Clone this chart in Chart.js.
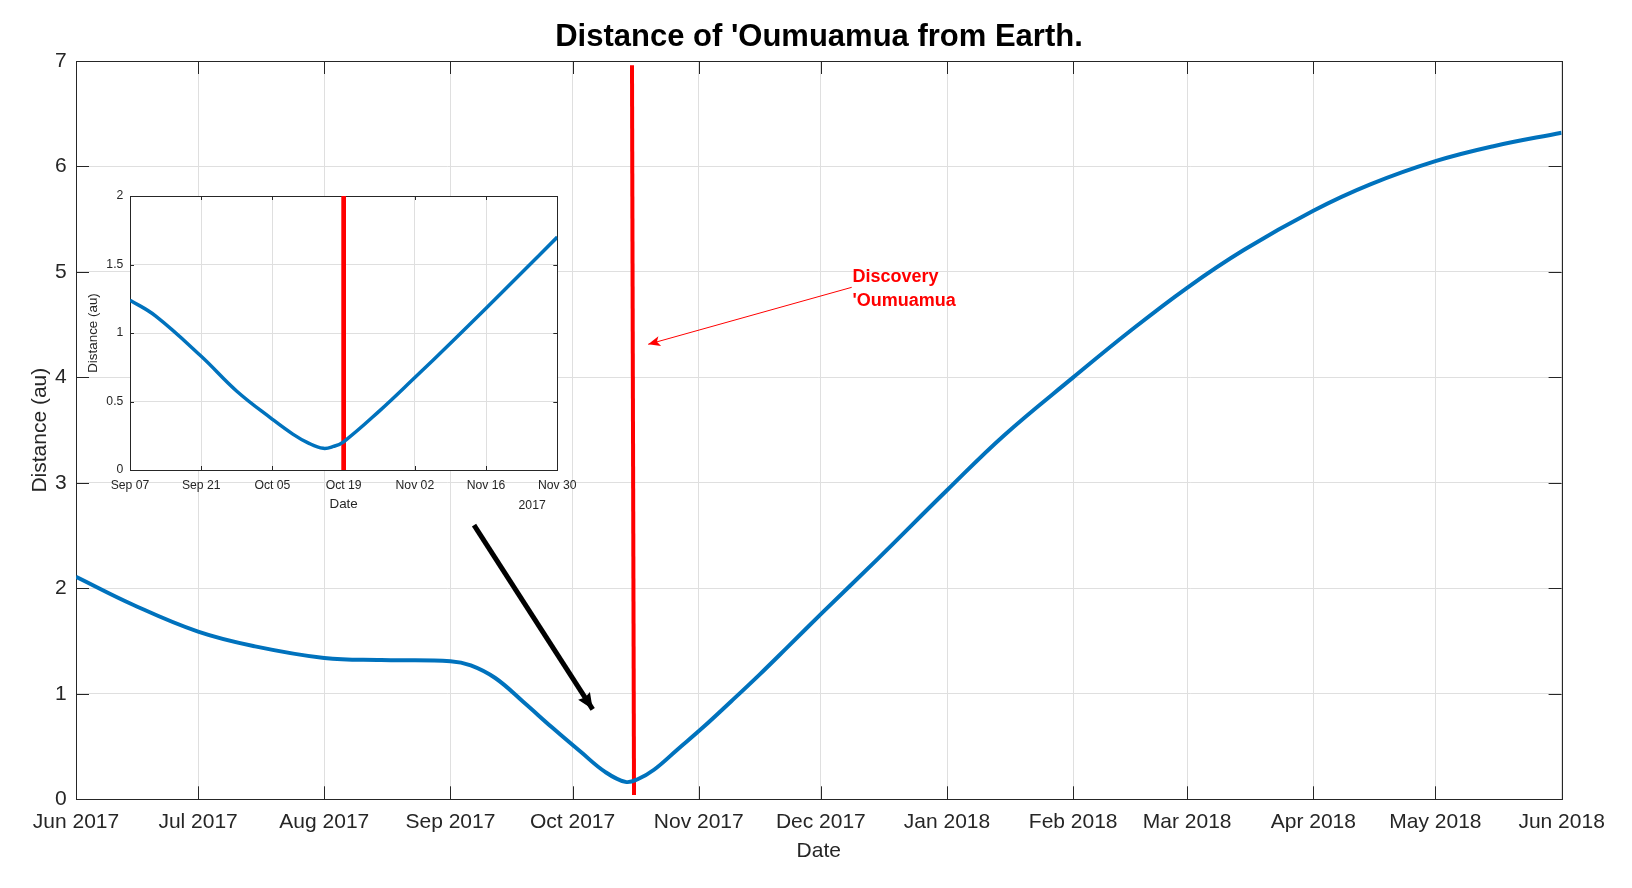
<!DOCTYPE html>
<html>
<head>
<meta charset="utf-8">
<title>Distance of 'Oumuamua from Earth</title>
<script src="https://cdn.jsdelivr.net/npm/chart.js@4.4.1/dist/chart.umd.min.js"></script>
<style>
  html, body { margin: 0; padding: 0; background: #fff; }
  #wrap { position: relative; width: 1632px; height: 888px; }
  #main { position: absolute; left: 0; top: 0; }
  #inset { position: absolute; left: 80px; top: 180px; }
</style>
</head>
<body>
<div id="wrap">
  <canvas id="main" width="1632" height="888"></canvas>
  <canvas id="inset" width="506" height="340"></canvas>
</div>
<script>
// distance of 'Oumuamua from Earth (au)
const mainDates = ['2017-06-01','2017-06-15','2017-07-01','2017-07-15','2017-08-01','2017-08-15','2017-09-01',
  '2017-09-06','2017-09-12','2017-09-19','2017-09-26','2017-10-03','2017-10-09','2017-10-14',
  '2017-10-17','2017-10-21','2017-10-27','2017-11-02','2017-11-09','2017-11-16','2017-11-23',
  '2017-12-01','2017-12-15','2018-01-01','2018-01-15','2018-02-01','2018-02-15','2018-03-01',
  '2018-03-15','2018-04-01','2018-04-15','2018-05-01','2018-05-15','2018-06-01'];
const mainDistance = [2.11,1.845,1.59,1.45,1.34,1.32,1.31,
  1.27,1.15,0.92,0.68,0.45,0.26,0.165,
  0.19,0.28,0.48,0.68,0.93,1.185,1.45,
  1.755,2.28,2.93,3.45,4.00,4.44,4.85,
  5.21,5.58,5.83,6.05,6.19,6.32];

// zoomed inset, Sep 07 - Nov 30 2017
const insetDates = ['2017-09-07','2017-09-12','2017-09-21','2017-09-28','2017-10-05','2017-10-09','2017-10-12','2017-10-15',
  '2017-10-17','2017-10-19','2017-10-26','2017-11-02','2017-11-09','2017-11-16','2017-11-23','2017-11-30'];
const insetDistance = [1.24,1.125,0.83,0.575,0.37,0.262,0.198,0.158,
  0.172,0.206,0.43,0.675,0.925,1.18,1.44,1.70];

// ticks
const mainTickDates = ['2017-06-01','2017-07-01','2017-08-01','2017-09-01','2017-10-01','2017-11-01','2017-12-01',
  '2018-01-01','2018-02-01','2018-03-01','2018-04-01','2018-05-01','2018-06-01'];
const mainTickLabels = ['Jun 2017','Jul 2017','Aug 2017','Sep 2017','Oct 2017','Nov 2017','Dec 2017',
  'Jan 2018','Feb 2018','Mar 2018','Apr 2018','May 2018','Jun 2018'];
const distanceTicks = [0,1,2,3,4,5,6,7];
const insetTickDates = ['2017-09-07','2017-09-21','2017-10-05','2017-10-19','2017-11-02','2017-11-16','2017-11-30'];
const insetTickLabels = ['Sep 07','Sep 21','Oct 05','Oct 19','Nov 02','Nov 16','Nov 30'];
const insetDistanceTicks = [0,0.5,1,1.5,2];

// hand drawn marks on the main plot (date, au)
const discoveryLineDates = ['2017-10-15T14:24','2017-10-16T02:24'];
const discoveryLineDistance = [6.96, 0.04];
const pointerDates = ['2017-09-06T19:00','2017-10-05T22:48'];
const pointerDistance = [2.60, 0.853];
const labelArrowDates = ['2017-12-08T14:00','2017-10-19T14:00'];
const labelArrowDistance = [4.854, 4.314];
const discoveryLabel = ['Discovery', "'Oumuamua"];
const discoveryLabelAt = ['2017-12-08T18:00', 4.908];
const insetDiscoveryDate = '2017-10-19';

const T0 = Date.UTC(2017, 5, 1);
const dayOf = s => (Date.parse(s.length > 10 ? s + 'Z' : s) - T0) / 864e5;
const pts = (dates, vals) => dates.map((d, i) => ({ x: dayOf(d), y: vals[i] }));

const FONT = '"Liberation Sans", Arial, Helvetica, sans-serif';
const AX = '#262626';
const GRID = '#dfdfdf';
const BLUE = '#0072BD';
const RED = '#ff0000';

// axes box with inward ticks on all four sides (matlab look)
const frame = {
  id: 'frame',
  beforeDatasetsDraw(chart, args, opts) {
    const { ctx, chartArea: a, scales: { x, y } } = chart;
    const L = opts.tickLength;
    const r = v => Math.round(v) + 0.5;
    ctx.save();
    ctx.strokeStyle = AX;
    ctx.lineWidth = 1;
    ctx.beginPath();
    x.ticks.forEach(t => {
      const px = r(x.getPixelForValue(t.value));
      ctx.moveTo(px, a.bottom); ctx.lineTo(px, a.bottom - L);
      ctx.moveTo(px, a.top); ctx.lineTo(px, a.top + L);
    });
    y.ticks.forEach(t => {
      const py = r(y.getPixelForValue(t.value));
      ctx.moveTo(a.left, py); ctx.lineTo(a.left + L, py);
      ctx.moveTo(a.right, py); ctx.lineTo(a.right - L, py);
    });
    ctx.stroke();
    ctx.strokeRect(r(a.left), r(a.top), Math.round(a.right - a.left), Math.round(a.bottom - a.top));
    ctx.restore();
  }
};

const whiteArea = {
  id: 'whiteArea',
  beforeDraw(chart) {
    const { ctx, chartArea: a } = chart;
    ctx.save();
    ctx.fillStyle = '#fff';
    ctx.fillRect(a.left, a.top, a.right - a.left, a.bottom - a.top);
    ctx.restore();
  }
};

const arrowHeads = {
  id: 'arrowHeads',
  afterDatasetsDraw(chart) {
    const ctx = chart.ctx;
    chart.data.datasets.forEach((ds, i) => {
      if (!ds.arrowHead) return;
      const el = chart.getDatasetMeta(i).data;
      const p0 = el[el.length - 2], p1 = el[el.length - 1];
      const ang = Math.atan2(p1.y - p0.y, p1.x - p0.x);
      const h = ds.arrowHead;
      ctx.save();
      ctx.translate(p1.x, p1.y);
      ctx.rotate(ang);
      ctx.fillStyle = ds.borderColor;
      ctx.beginPath();
      ctx.moveTo(0, 0);
      ctx.lineTo(-h.len, -h.half);
      ctx.lineTo(-h.len + h.notch, 0);
      ctx.lineTo(-h.len, h.half);
      ctx.closePath();
      ctx.fill();
      ctx.restore();
    });
  }
};

const mainNotes = {
  id: 'mainNotes',
  afterDatasetsDraw(chart) {
    const { ctx, scales: { x, y } } = chart;
    const px = x.getPixelForValue(dayOf(discoveryLabelAt[0]));
    const py = y.getPixelForValue(discoveryLabelAt[1]);
    ctx.save();
    ctx.fillStyle = RED;
    ctx.font = 'bold 18px ' + FONT;
    ctx.textAlign = 'left';
    ctx.textBaseline = 'alphabetic';
    discoveryLabel.forEach((t, i) => ctx.fillText(t, px, py + i * 24));
    ctx.restore();
  }
};

const insetNotes = {
  id: 'insetNotes',
  afterDraw(chart) {
    const { ctx, chartArea: a } = chart;
    ctx.save();
    ctx.fillStyle = AX;
    ctx.font = '12.2px ' + FONT;
    ctx.textAlign = 'right';
    ctx.textBaseline = 'alphabetic';
    ctx.fillText('2017', a.right - 11.6, a.bottom + 38.5);
    ctx.restore();
  }
};

new Chart(document.getElementById('main'), {
  type: 'line',
  data: {
    datasets: [
      { data: pts(mainDates, mainDistance), borderColor: BLUE, borderWidth: 4, pointRadius: 0, tension: 0.4 },
      { data: pts(discoveryLineDates, discoveryLineDistance), borderColor: RED, borderWidth: 4, pointRadius: 0, tension: 0 },
      { data: pts(pointerDates, pointerDistance), borderColor: '#000', borderWidth: 5, pointRadius: 0, tension: 0,
        arrowHead: { len: 16, half: 7, notch: 2 } },
      { data: pts(labelArrowDates, labelArrowDistance), borderColor: RED, borderWidth: 1, pointRadius: 0, tension: 0,
        arrowHead: { len: 12, half: 5, notch: 3 } }
    ]
  },
  options: {
    responsive: false,
    animation: false,
    devicePixelRatio: 1,
    layout: { padding: { left: 6, right: 0, top: 0, bottom: 0 } },
    plugins: {
      legend: { display: false },
      tooltip: { enabled: false },
      title: {
        display: true,
        text: "Distance of 'Oumuamua from Earth.",
        color: '#000',
        font: { family: FONT, size: 31, weight: 'bold' },
        padding: { top: 18.5, bottom: 5.3 }
      },
      frame: { tickLength: 13 }
    },
    scales: {
      x: {
        type: 'linear',
        min: dayOf(mainTickDates[0]),
        max: dayOf(mainTickDates[mainTickDates.length - 1]),
        afterFit: s => { s.height = 88.7; },
        afterBuildTicks: s => { s.ticks = mainTickDates.map(d => ({ value: dayOf(d) })); },
        grid: { color: GRID, drawTicks: false },
        border: { display: false },
        ticks: {
          autoSkip: false, maxRotation: 0, minRotation: 0, padding: 10,
          color: AX, font: { family: FONT, size: 21 },
          callback: (v, i) => mainTickLabels[i]
        },
        title: { display: true, text: 'Date', color: AX, font: { family: FONT, size: 21 }, padding: { top: 0, bottom: 23.9 } }
      },
      y: {
        min: 0, max: 7,
        afterFit: s => { s.width = 70; },
        afterBuildTicks: s => { s.ticks = distanceTicks.map(v => ({ value: v })); },
        grid: { color: GRID, drawTicks: false },
        border: { display: false },
        ticks: { padding: 9.3, color: AX, font: { family: FONT, size: 21 }, callback: v => String(v) },
        title: { display: true, text: 'Distance (au)', color: AX, font: { family: FONT, size: 21 }, padding: { top: 21.5, bottom: 0 } }
      },
      yRight: {
        position: 'right',
        min: 0, max: 7,
        afterFit: s => { s.width = 70.4; },
        grid: { display: false, drawTicks: false },
        border: { display: false },
        ticks: { display: false }
      }
    }
  },
  plugins: [frame, arrowHeads, mainNotes]
});

new Chart(document.getElementById('inset'), {
  type: 'line',
  data: {
    datasets: [
      { data: pts(insetDates, insetDistance), borderColor: BLUE, borderWidth: 3.5, pointRadius: 0, tension: 0.4 },
      { data: pts([insetDiscoveryDate, insetDiscoveryDate], [0, 2]), borderColor: RED, borderWidth: 4.7, pointRadius: 0, tension: 0 }
    ]
  },
  options: {
    responsive: false,
    animation: false,
    devicePixelRatio: 1,
    layout: { padding: { left: 0, right: 28.7, top: 16, bottom: 0 } },
    plugins: {
      legend: { display: false },
      tooltip: { enabled: false },
      title: { display: false },
      frame: { tickLength: 4 }
    },
    scales: {
      x: {
        type: 'linear',
        min: dayOf(insetTickDates[0]),
        max: dayOf(insetTickDates[insetTickDates.length - 1]),
        afterFit: s => { s.height = 50; },
        afterBuildTicks: s => { s.ticks = insetTickDates.map(d => ({ value: dayOf(d) })); },
        grid: { color: GRID, drawTicks: false },
        border: { display: false },
        ticks: {
          autoSkip: false, maxRotation: 0, minRotation: 0, padding: 8.6,
          color: AX, font: { family: FONT, size: 12.2 },
          callback: (v, i) => insetTickLabels[i]
        },
        title: { display: true, text: 'Date', color: AX, font: { family: FONT, size: 13.4 }, padding: { top: 0, bottom: 7.7 } }
      },
      y: {
        min: 0, max: 2,
        afterFit: s => { s.width = 50; },
        afterBuildTicks: s => { s.ticks = insetDistanceTicks.map(v => ({ value: v })); },
        grid: { color: GRID, drawTicks: false },
        border: { display: false },
        ticks: { padding: 6.7, color: AX, font: { family: FONT, size: 12.2 }, callback: v => String(v) },
        title: { display: true, text: 'Distance (au)', color: AX, font: { family: FONT, size: 13.4 }, padding: { top: 5.2, bottom: 0 } }
      }
    }
  },
  plugins: [whiteArea, frame, insetNotes]
});
</script>
</body>
</html>
